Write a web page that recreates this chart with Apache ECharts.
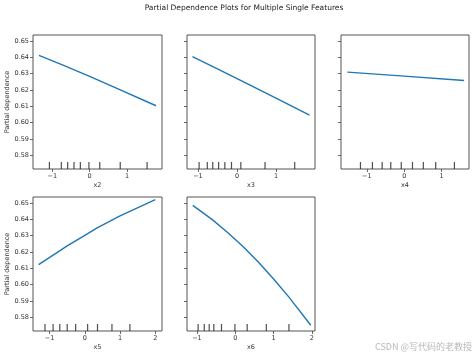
<!DOCTYPE html>
<html>
<head>
<meta charset="utf-8">
<script src="https://cdn.jsdelivr.net/npm/echarts@6/dist/echarts.min.js"></script>
<style>html,body{margin:0;padding:0;background:#fff}#c{width:474px;height:356px}</style>
</head>
<body>
<div id="c"></div>
<script>
// ---- data ----
const features = ['x2', 'x3', 'x4', 'x5', 'x6'];

const x2Grid = [-1.36, -0.7, 0, 0.7, 1.78];
const x2Pd   = [0.6412, 0.6351, 0.6283, 0.6213, 0.6103];
const x2Deciles = [-1.08, -0.76, -0.59, -0.42, -0.25, -0.02, 0.27, 0.82, 1.54];

const x3Grid = [-1.14, -0.5, 0.35, 1.0, 1.86];
const x3Pd   = [0.6404, 0.6329, 0.6228, 0.6150, 0.6045];
const x3Deciles = [-0.97, -0.76, -0.62, -0.47, -0.31, -0.14, 0.10, 0.72, 1.48];

const x4Grid = [-1.52, 0, 1.60];
const x4Pd   = [0.6309, 0.6285, 0.6258];
const x4Deciles = [-1.17, -0.85, -0.59, -0.36, -0.08, 0.22, 0.51, 0.84, 1.34];

const x5Grid = [-1.31, -0.5, 0, 0.35, 1.0, 2.0];
const x5Pd   = [0.6122, 0.6237, 0.6302, 0.6347, 0.6421, 0.6521];
const x5Deciles = [-1.13, -0.90, -0.71, -0.50, -0.26, 0.08, 0.36, 0.77, 1.28];

const x6Grid = [-1.11, -0.6, -0.2, 0.2, 0.6, 1.0, 1.4, 1.97];
const x6Pd   = [0.6486, 0.6398, 0.6319, 0.6233, 0.6138, 0.6034, 0.5923, 0.5750];
const x6Deciles = [-0.97, -0.81, -0.68, -0.56, -0.36, -0.01, 0.31, 0.81, 1.40];

const yTicks = [0.58, 0.59, 0.60, 0.61, 0.62, 0.63, 0.64, 0.65];
const xTicksA = [-1, 0, 1];
const xTicksB = [-1, 0, 1, 2];

const title = 'Partial Dependence Plots for Multiple Single Features';
const yName = 'Partial dependence';
const watermark = 'CSDN @写代码的老教授';

// ---- layout ----
const panels = [
  {grid: x2Grid, pd: x2Pd, dec: x2Deciles, xmin: -1.52, xmax: 1.94, ticks: xTicksA, box: {left: 33, top: 35, width: 129, height: 134}, yl: true},
  {grid: x3Grid, pd: x3Pd, dec: x3Deciles, xmin: -1.28, xmax: 2.0, ticks: xTicksA, box: {left: 187, top: 35, width: 128, height: 134}, yl: false},
  {grid: x4Grid, pd: x4Pd, dec: x4Deciles, xmin: -1.69, xmax: 1.73, ticks: xTicksA, box: {left: 341, top: 35, width: 128, height: 134}, yl: false},
  {grid: x5Grid, pd: x5Pd, dec: x5Deciles, xmin: -1.47, xmax: 2.19, ticks: xTicksB, box: {left: 33, top: 197, width: 129, height: 134}, yl: true},
  {grid: x6Grid, pd: x6Pd, dec: x6Deciles, xmin: -1.26, xmax: 2.08, ticks: xTicksB, box: {left: 187, top: 197, width: 128, height: 134}, yl: false}
];
const YMIN = 0.5715, YMAX = 0.6537;
const FONT = 'DejaVu Sans';
const minus = v => (v < 0 ? '\u2212' + Math.abs(v) : String(v));

const grids = [], xAxes = [], yAxes = [], series = [];
panels.forEach((p, i) => {
  grids.push(Object.assign({show: true, borderColor: '#555', borderWidth: 1, backgroundColor: '#fff'}, p.box));
  xAxes.push({
    type: 'value', gridIndex: i, min: p.xmin, max: p.xmax,
    axisLine: {show: false, onZero: false},
    axisTick: {show: true, length: 3, inside: false, lineStyle: {color: '#444', width: 0.8}, customValues: p.ticks},
    axisLabel: {show: true, customValues: p.ticks, formatter: minus, fontSize: 6.5, fontFamily: FONT, color: '#333', margin: 4},
    splitLine: {show: false},
    name: features[i], nameLocation: 'middle', nameGap: 13,
    nameTextStyle: {fontSize: 6.5, fontFamily: FONT, color: '#333'}
  });
  yAxes.push({
    type: 'value', gridIndex: i, min: YMIN, max: YMAX,
    axisLine: {show: false, onZero: false},
    axisTick: {show: true, length: 3, lineStyle: {color: '#444', width: 0.8}, customValues: yTicks},
    axisLabel: {show: p.yl, customValues: yTicks, formatter: v => v.toFixed(2), fontSize: 6.5, fontFamily: FONT, color: '#333', margin: 4},
    splitLine: {show: false},
    name: p.yl ? yName : '', nameLocation: 'middle', nameGap: 22, nameRotate: 90,
    nameTextStyle: {fontSize: 6.5, fontFamily: FONT, color: '#333'}
  });
  series.push({
    type: 'line', xAxisIndex: i, yAxisIndex: i, showSymbol: false, symbol: 'none',
    data: p.grid.map((x, k) => [x, p.pd[k]]),
    lineStyle: {color: '#1f77b4', width: 1.4, join: 'round'}, smooth: false,
    animation: false, silent: true
  });
  series.push({
    type: 'scatter', xAxisIndex: i, yAxisIndex: i, clip: false,
    symbol: 'rect', symbolSize: [1.2, 7], symbolOffset: [0, -3.5],
    itemStyle: {color: '#222'},
    data: p.dec.map(x => [x, YMIN]), animation: false, silent: true
  });
});

const chart = echarts.init(document.getElementById('c'), null, {renderer: 'canvas'});
chart.setOption({
  animation: false,
  backgroundColor: '#fff',
  grid: grids, xAxis: xAxes, yAxis: yAxes, series: series,
  graphic: [
    {type: 'text', x: 244, y: 8, style: {text: title, align: 'center', verticalAlign: 'middle', fontSize: 7.5, fontFamily: FONT, fill: '#222'}},
    {type: 'text', x: 472, y: 347, style: {text: watermark, align: 'right', verticalAlign: 'middle', fontSize: 9, fontFamily: 'Noto Sans CJK SC', fill: '#b8b8b8'}}
  ]
});
</script>
</body>
</html>
